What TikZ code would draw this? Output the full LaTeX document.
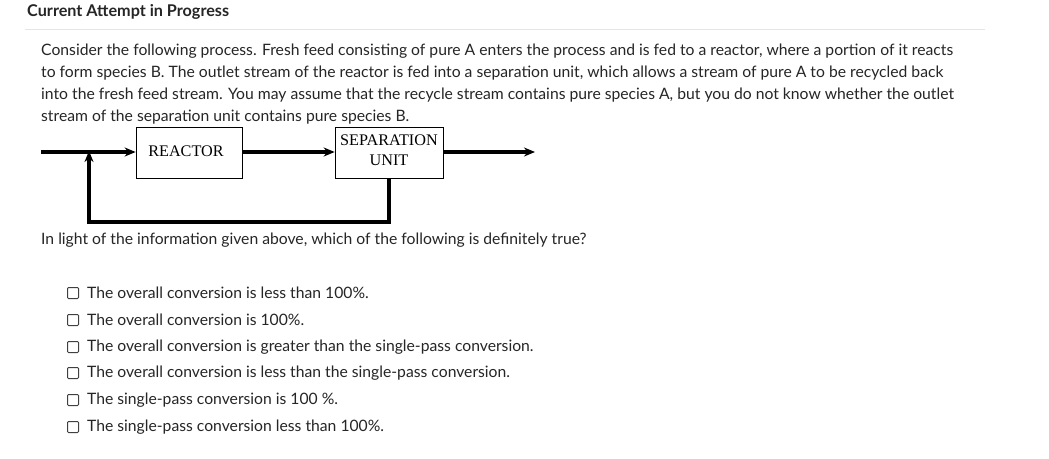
\documentclass[tikz,border=0pt]{standalone}
\usepackage{fontspec}
\setmainfont{Lato}
\newfontfamily\serifbox{Liberation Serif}
\usetikzlibrary{arrows.meta}
\begin{document}
\begin{tikzpicture}[x=1pt,y=-1pt,
  txt/.style={anchor=west,inner sep=0pt,font=\fontsize{15.7}{18}\selectfont,text=black!85},
  opt/.style={anchor=west,inner sep=0pt,font=\fontsize{15.7}{18}\selectfont,text=black!85},
  cb/.style={draw=black!75,line width=1pt,rounded corners=1pt,minimum size=11pt,inner sep=0pt},
  unit/.style={draw,line width=0.7pt,inner sep=0pt},
  utext/.style={font=\serifbox\fontsize{16.2}{17}\selectfont,align=center,inner sep=0pt},
  flow/.style={line width=3.2pt,-{Stealth[length=11pt,width=9pt]}},
  flowplain/.style={line width=3.2pt}]
\useasboundingbox (0,0) rectangle (1049,458);
\fill[white] (0,0) rectangle (1049,458);
\node[txt,font=\fontsize{16.2}{18}\selectfont\bfseries] (title) at (27,12) {Current Attempt in Progress};
\draw[black!10] (25,29) -- (985,29);
\node[txt] (l1) at (41,51) {Consider the following process. Fresh feed consisting of pure A enters the process and is fed to a reactor, where a portion of it reacts};
\node[txt] (l2) at (41,73) {to form species B. The outlet stream of the reactor is fed into a separation unit, which allows a stream of pure A to be recycled back};
\node[txt] (l3) at (41,95) {into the fresh feed stream. You may assume that the recycle stream contains pure species A, but you do not know whether the outlet};
\node[txt] (l4) at (41,117) {stream of the separation unit contains pure species B.};
\node[unit,minimum width=106pt,minimum height=51pt] (r) at (189,152.5) {};
\node[utext] (rt) at (186,151) {REACTOR};
\node[unit,minimum width=108pt,minimum height=51pt] (s) at (389,152.5) {};
\node[utext] (st) at (389,150) {SEPARATION\\[3pt]UNIT};
\coordinate (in) at (41,152);
\coordinate (out) at (535,152);
\coordinate (m) at (89,152);
\coordinate (d) at (389,222);
\coordinate (c) at (89,222);
\draw[flow] (in) -- (r.west|-in);
\draw[flow] (r.east|-in) -- (s.west|-in);
\draw[flow] (s.east|-in) -- (out);
\draw[flowplain] (s.south) -- (d) -- (c) -- (89,200);
\draw[flow] (89,201) -- ([yshift=1pt]m);
\node[txt] (q) at (41,240) {In light of the information given above, which of the following is definitely true?};
\foreach \y/\t [count=\i] in {293/{The overall conversion is less than 100\%.},320/{The overall conversion is 100\%.},347/{The overall conversion is greater than the single-pass conversion.},373/{The overall conversion is less than the single-pass conversion.},400/{The single-pass conversion is 100 \%.},427/{The single-pass conversion less than 100\%.}}{
  \node[cb] (b\i) at (73,\y) {};
  \node[opt] (o\i) at (87,\y) {\t};
}
\end{tikzpicture}
\end{document}
